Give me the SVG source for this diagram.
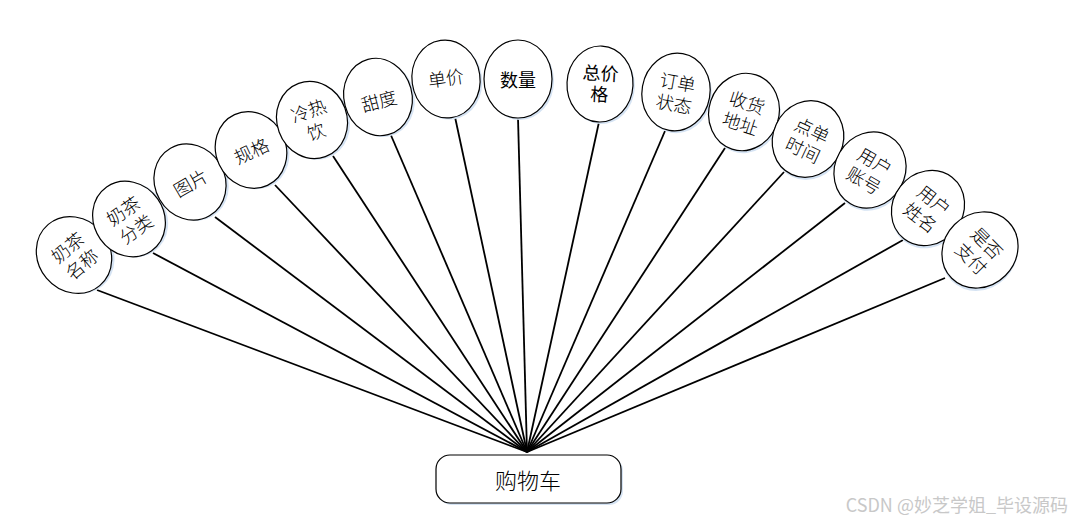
<svg xmlns="http://www.w3.org/2000/svg" width="1075" height="521" viewBox="0 0 1075 521">
<defs>
<style>
.sh{fill:#d5e3f3;stroke:none}
.el{fill:#fff;stroke:#000;stroke-width:1.2}
.t{font-family:"Noto Sans CJK SC","Noto Sans",sans-serif;font-size:18px;font-weight:300;fill:#000;text-anchor:middle;dominant-baseline:central}
.tb{font-weight:400}
.ln{stroke:#000;stroke-width:1.8;fill:none}
</style>
</defs>
<rect width="1075" height="521" fill="#fff"/>
<g id="connectors">
<line class="ln" x1="97" y1="290" x2="527" y2="452"/>
<line class="ln" x1="153" y1="253" x2="527" y2="452"/>
<line class="ln" x1="215" y1="217" x2="527" y2="452"/>
<line class="ln" x1="275" y1="185" x2="527" y2="452"/>
<line class="ln" x1="333" y1="156" x2="527" y2="452"/>
<line class="ln" x1="390" y1="133" x2="527" y2="452"/>
<line class="ln" x1="455" y1="117" x2="527" y2="452"/>
<line class="ln" x1="518" y1="118" x2="527" y2="452"/>
<line class="ln" x1="599" y1="122" x2="527" y2="452"/>
<line class="ln" x1="665" y1="131" x2="527" y2="452"/>
<line class="ln" x1="725" y1="148" x2="527" y2="452"/>
<line class="ln" x1="784" y1="172" x2="527" y2="452"/>
<line class="ln" x1="845" y1="203" x2="527" y2="452"/>
<line class="ln" x1="903" y1="240" x2="527" y2="452"/>
<line class="ln" x1="945" y1="278" x2="527" y2="452"/>
</g>
<g id="n1" transform="translate(74,255) rotate(-40)">
<ellipse class="sh" cx="2" cy="2" rx="36" ry="40"/><ellipse class="el" rx="36" ry="40"/>
<text class="t" y="-11">奶茶</text><text class="t" y="11">名称</text></g>
<g id="n2" transform="translate(129,219) rotate(-35)">
<ellipse class="sh" cx="2" cy="2" rx="35" ry="39"/><ellipse class="el" rx="35" ry="39"/>
<text class="t" y="-11">奶茶</text><text class="t" y="11">分类</text></g>
<g id="n3" transform="translate(190,182) rotate(-30)">
<ellipse class="sh" cx="2" cy="2" rx="35" ry="39"/><ellipse class="el" rx="35" ry="39"/>
<text class="t" y="0">图片</text></g>
<g id="n4" transform="translate(251,150) rotate(-25)">
<ellipse class="sh" cx="2" cy="2" rx="35" ry="39"/><ellipse class="el" rx="35" ry="39"/>
<text class="t" y="0">规格</text></g>
<g id="n5" transform="translate(312,120) rotate(-20)">
<ellipse class="sh" cx="2" cy="2" rx="35" ry="39"/><ellipse class="el" rx="35" ry="39"/>
<text class="t" y="-11">冷热</text><text class="t" y="11">饮</text></g>
<g id="n6" transform="translate(378,97) rotate(-15)">
<ellipse class="sh" cx="2" cy="2" rx="34" ry="39"/><ellipse class="el" rx="34" ry="39"/>
<text class="t" y="3">甜度</text></g>
<g id="n7" transform="translate(446,79) rotate(-8)">
<ellipse class="sh" cx="2" cy="2" rx="34" ry="39"/><ellipse class="el" rx="34" ry="39"/>
<text class="t" y="-2">单价</text></g>
<g id="n8" transform="translate(518,79)">
<ellipse class="sh" cx="2" cy="2" rx="34" ry="39"/><ellipse class="el" rx="34" ry="39"/>
<text class="t tb" y="0">数量</text></g>
<g id="n9" transform="translate(600,84) rotate(3)">
<ellipse class="sh" cx="2" cy="2" rx="33" ry="38"/><ellipse class="el" rx="33" ry="38"/>
<text class="t tb" y="-12">总价</text><text class="t tb" y="9">格</text></g>
<g id="n10" transform="translate(676,92) rotate(10)">
<ellipse class="sh" cx="2" cy="2" rx="34" ry="39"/><ellipse class="el" rx="34" ry="39"/>
<text class="t" y="-11">订单</text><text class="t" y="11">状态</text></g>
<g id="n11" transform="translate(744,112) rotate(18)">
<ellipse class="sh" cx="2" cy="2" rx="35" ry="39"/><ellipse class="el" rx="35" ry="39"/>
<text class="t" y="-11">收货</text><text class="t" y="11">地址</text></g>
<g id="n12" transform="translate(808,139) rotate(25)">
<ellipse class="sh" cx="2" cy="2" rx="35" ry="39"/><ellipse class="el" rx="35" ry="39"/>
<text class="t" y="-11">点单</text><text class="t" y="11">时间</text></g>
<g id="n13" transform="translate(870,170) rotate(30)">
<ellipse class="sh" cx="2" cy="2" rx="35" ry="39"/><ellipse class="el" rx="35" ry="39"/>
<text class="t" y="-11">用户</text><text class="t" y="11">账号</text></g>
<g id="n14" transform="translate(928,208) rotate(38)">
<ellipse class="sh" cx="2" cy="2" rx="35" ry="39"/><ellipse class="el" rx="35" ry="39"/>
<text class="t" y="-11">用户</text><text class="t" y="11">姓名</text></g>
<g id="n15" transform="translate(980,250) rotate(45)">
<ellipse class="sh" cx="2" cy="2" rx="36" ry="40"/><ellipse class="el" rx="36" ry="40"/>
<text class="t" y="-11">是否</text><text class="t" y="11">支付</text></g>
<g id="cart">
<rect x="438" y="457" width="185" height="48" rx="14" fill="#d5e3f3"/>
<rect x="436" y="455" width="185" height="48" rx="14" fill="#fff" stroke="#000" stroke-width="1.2"/>
<text class="t" x="528" y="479" style="font-size:22px">购物车</text>
</g>
<text x="1068" y="504" style="font-family:'Noto Sans CJK SC','Liberation Sans',sans-serif;font-size:18px;fill:#c8c8c8;text-anchor:end;dominant-baseline:central">CSDN @妙芝学姐_毕设源码</text>
</svg>
